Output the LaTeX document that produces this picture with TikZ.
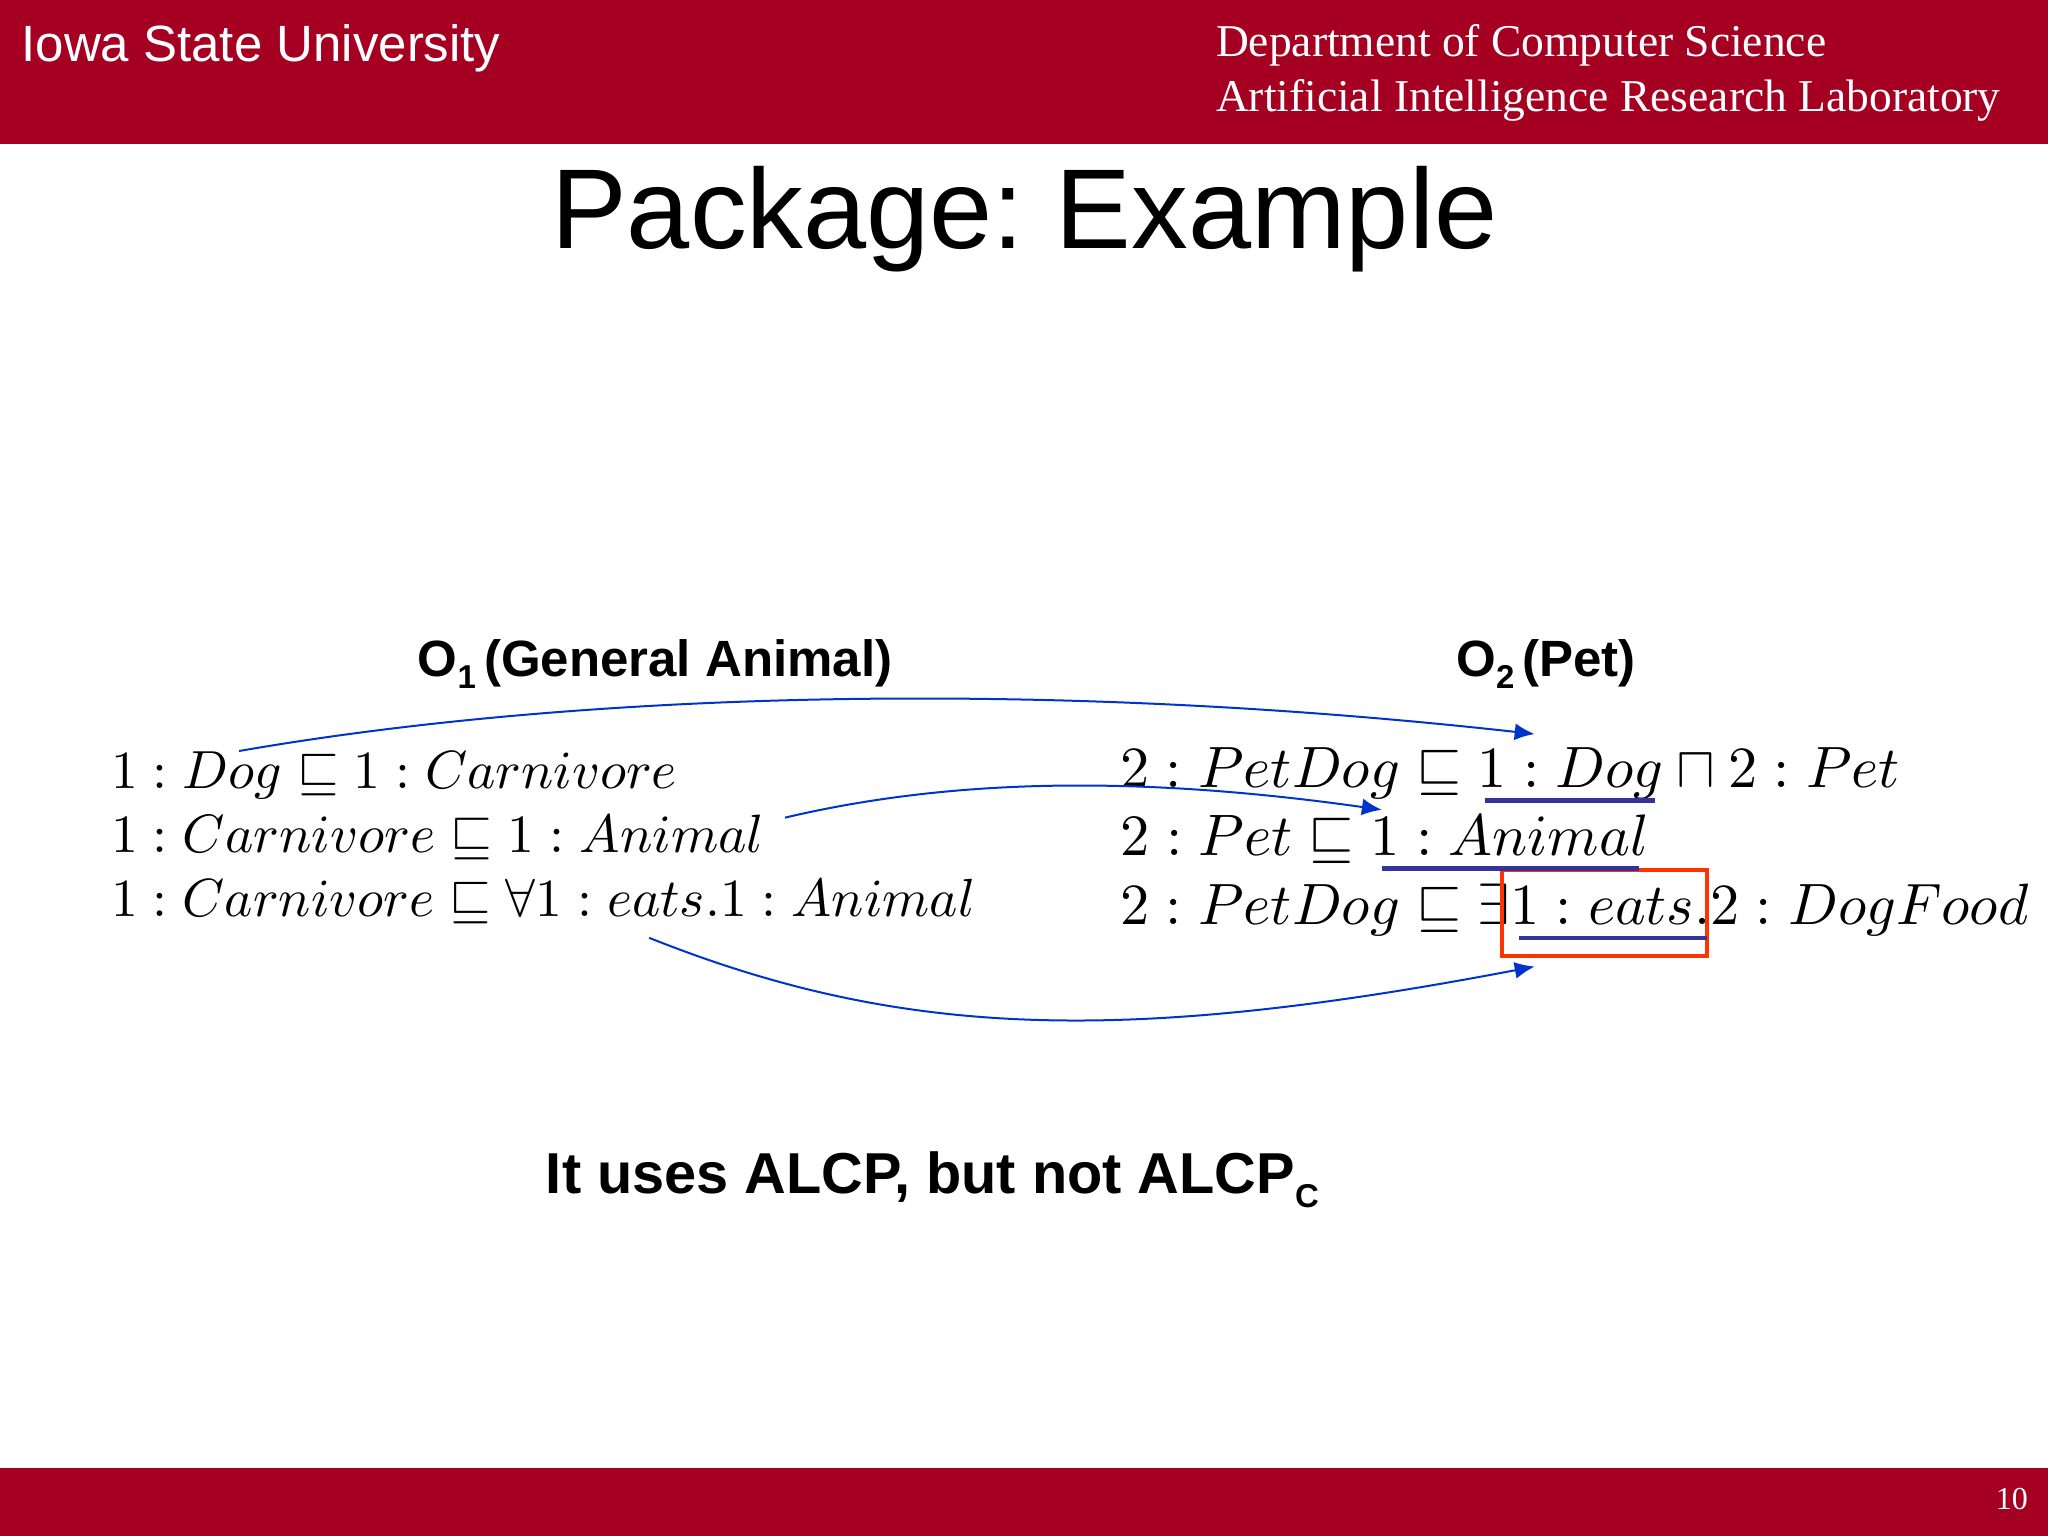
\documentclass[tikz,border=0pt]{standalone}
\usepackage{amssymb}
\usepackage{fontspec}
\setmainfont{Liberation Sans}
\newfontfamily\serifface{Liberation Serif}
\usetikzlibrary{arrows.meta}
\definecolor{isured}{HTML}{A50021}
\definecolor{linkblue}{HTML}{0033CC}
\definecolor{markblue}{HTML}{333399}
\definecolor{boxred}{HTML}{FF3300}
\newcommand{\mline}[2]{\resizebox{#1pt}{!}{$#2$}}
\newcommand{\subtxt}[1]{\raisebox{-0.24em}{\fontsize{33}{33}\selectfont #1}}
\tikzset{
  x=1.30612pt, y=-1.30612pt,
  txt/.style={anchor=base west, inner sep=0pt, outer sep=0pt},
  bar/.style={fill=isured, draw=none},
  link/.style={draw=linkblue, line width=2pt, -{Latex[length=20pt,width=17pt]}},
  underl/.style={draw=markblue, line width=4.5pt},
  boxmark/.style={draw=boxred, line width=4pt}
}
\begin{document}
\begin{tikzpicture}
\useasboundingbox (0,0) rectangle (1568,1176);
\fill[white] (0,0) rectangle (1568,1176);
\path[bar] (0,0) rectangle (1568,110);
\path[bar] (0,1124) rectangle (1568,1176);
\node[txt,text=white,font=\fontsize{51}{51}\selectfont] (univ) at (16.5,47) {Iowa State University};
\node[txt,text=white,font=\serifface\fontsize{45.5}{46}\selectfont] (dept) at (931,43) {Department of Computer Science};
\node[txt,text=white,font=\serifface\fontsize{45.5}{46}\selectfont] (lab) at (931,85) {Artificial Intelligence Research Laboratory};
\node[txt,font=\fontsize{113.5}{114}\selectfont] (title) at (422,190) {\frenchspacing Package: Example};
\node[txt,text=white,font=\serifface\fontsize{32}{32}\selectfont] (page) at (1528,1156) {10};
\node[txt,font=\bfseries\fontsize{51}{51}\selectfont] (o1) at (320,518) {O\subtxt{1}\hspace{0.16em}(General Animal)};
\node[txt,font=\bfseries\fontsize{51}{51}\selectfont] (o2) at (1115,518) {O\subtxt{2}\hspace{0.16em}(Pet)};
\node[txt,font=\bfseries\fontsize{57.7}{58}\selectfont] (note) at (418,914) {It uses ALCP, but not ALCP\subtxt{C}};

\node[txt] (l1) at (85,604) {\mline{566}{1:Dog\sqsubseteq 1:Carnivore}};
\node[txt] (l2) at (85,653) {\mline{653}{1:Carnivore\sqsubseteq 1:Animal}};
\node[txt] (l3) at (85,702) {\mline{864}{1:Carnivore\sqsubseteq \forall 1:eats.1:Animal}};
\node[txt] (r1) at (858,603) {\mline{779}{2:PetDog\sqsubseteq 1:Dog\sqcap 2:Pet}};
\node[txt] (r2) at (858,655) {\mline{528}{2:Pet\sqsubseteq 1:Animal}};
\node[txt] (r3) at (858,708) {\mline{908}{2:PetDog\sqsubseteq \exists 1:eats.2:DogFood}};

\coordinate (u1a) at (1137,613); \coordinate (u1b) at (1267,613);
\coordinate (u2a) at (1058,665); \coordinate (u2b) at (1255,665);
\coordinate (u3a) at (1163,718); \coordinate (u3b) at (1307,718);
\draw[boxmark] (1150,666) rectangle (1307,732);
\draw[underl] (u1a) -- (u1b);
\draw[underl] (u2a) -- (u2b);
\draw[underl] (u3a) -- (u3b);

\coordinate (a1s) at (183,575); \coordinate (a1e) at (1175,562);
\coordinate (a2s) at (601,626); \coordinate (a2e) at (1058,620);
\coordinate (a3s) at (497,718); \coordinate (a3e) at (1175,740);
\draw[link] (a1s) .. controls (430,532) and (780,518) .. (a1e);
\draw[link] (a2s) .. controls (720,598) and (860,592) .. (a2e);
\draw[link] (a3s) .. controls (690,795) and (860,800) .. (a3e);
\end{tikzpicture}
\end{document}
